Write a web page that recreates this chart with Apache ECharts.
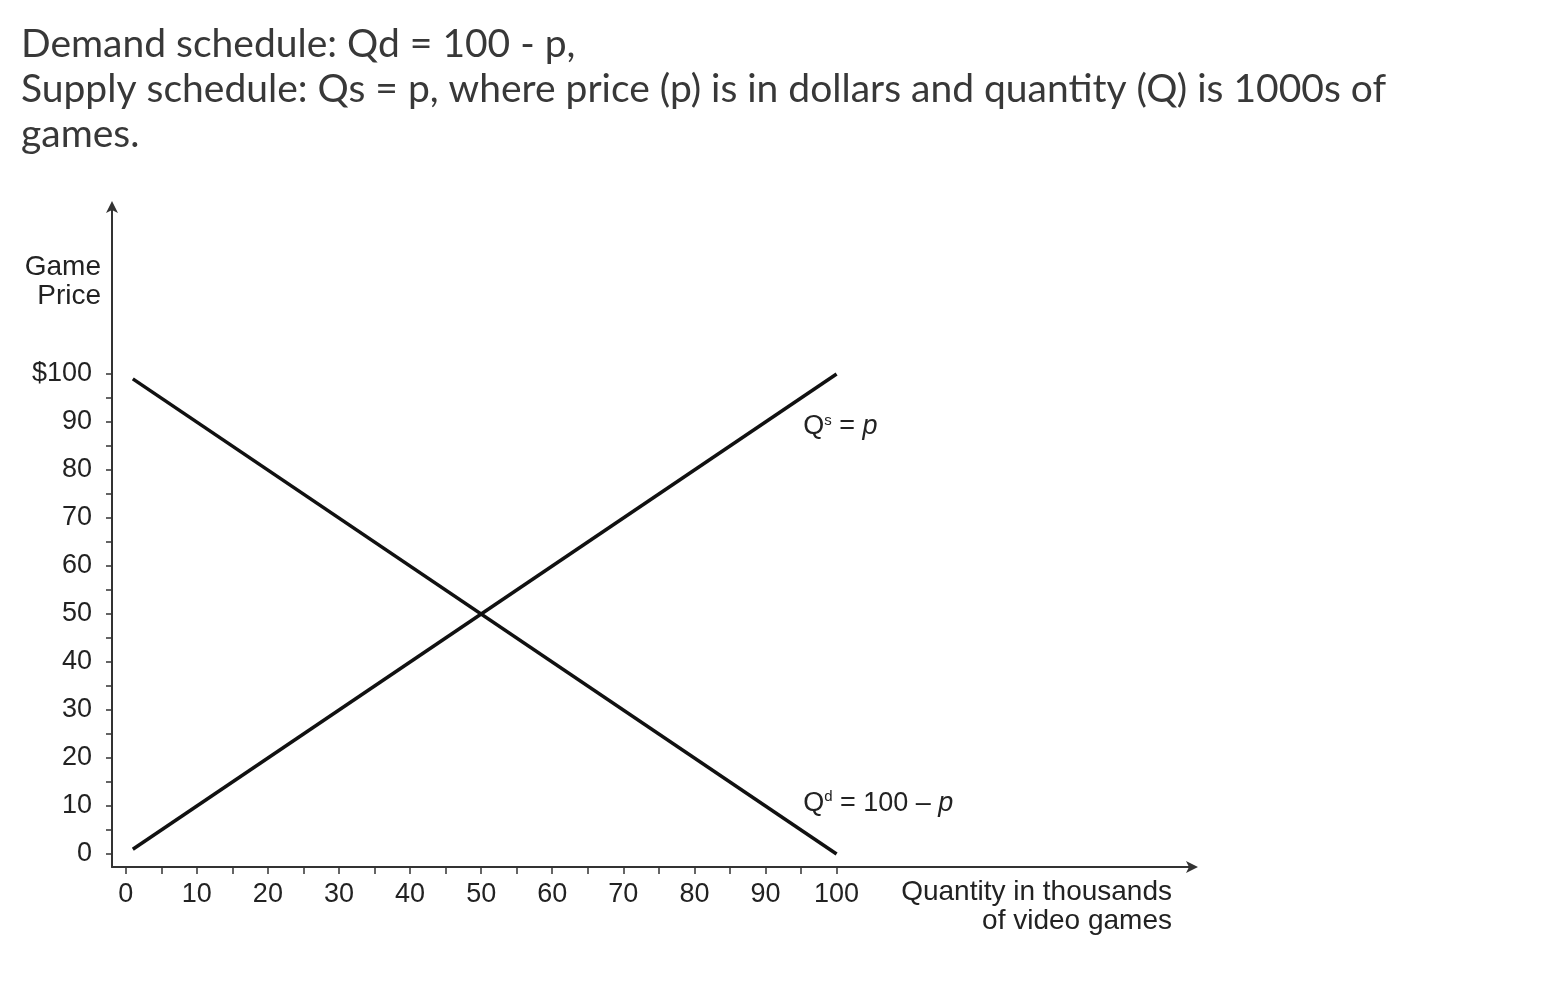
<!DOCTYPE html>
<html><head><meta charset="utf-8">
<script src="https://cdn.jsdelivr.net/npm/echarts@6/dist/echarts.min.js"></script>
<style>html,body{margin:0;padding:0;background:#fff}#c{width:1568px;height:996px}</style>
</head><body><div id="c"></div>
<script>
const headerLines = ["Demand schedule: Qd = 100 - p,", "Supply schedule: Qs = p, where price (p) is in dollars and quantity (Q) is 1000s of", "games."];
const supplyPoints = [[1, 1], [100, 100]];
const demandPoints = [[1, 99], [100, 0]];
const tickValues = [0,5,10,15,20,25,30,35,40,45,50,55,60,65,70,75,80,85,90,95,100];
const labelValues = [0,10,20,30,40,50,60,70,80,90,100];
const yAxisTitle = "Game\nPrice";
const xAxisTitle = "Quantity in thousands\nof video games";
const supplyLabelAt = [95.3, 89];
const demandLabelAt = [95.3, 10.6];

const chart = echarts.init(document.getElementById('c'), null, {renderer: 'canvas'});
const F = '"Liberation Sans", Arial, sans-serif';
const axisColor = '#333';
const txt = '#222';
const FS = 27;
const richQ = {
  q: {fontFamily: F, fontSize: 27, color: txt},
  sup: {fontFamily: F, fontSize: 15, color: txt, verticalAlign: 'top', padding: [0,0,10,0]},
  t: {fontFamily: F, fontSize: 27, color: txt},
  p: {fontFamily: F, fontSize: 27, fontStyle: 'italic', color: txt}
};
chart.setOption({
  animation: false,
  title: {
    text: headerLines.join('\n'),
    left: 21, top: 22, padding: 0,
    textStyle: {fontFamily: 'Lato, sans-serif', fontSize: 39, fontWeight: 'normal', color: '#383838', lineHeight: 45}
  },
  grid: {left: 112, right: 376, top: 207, bottom: 129, containLabel: false},
  xAxis: {
    type: 'value', min: -1.93, max: 150,
    splitLine: {show: false},
    axisLine: {show: true, onZero: false, lineStyle: {color: axisColor, width: 2}, symbol: ['none', 'arrow'], symbolSize: [9, 12], symbolOffset: [0, 6]},
    axisTick: {show: true, inside: false, length: 7, customValues: tickValues, lineStyle: {color: axisColor, width: 1.5}},
    axisLabel: {show: true, customValues: labelValues, margin: 14, fontFamily: F, fontSize: FS, color: txt}
  },
  yAxis: {
    type: 'value', min: -2.71, max: 134.8,
    splitLine: {show: false},
    axisLine: {show: true, onZero: false, lineStyle: {color: axisColor, width: 2}, symbol: ['none', 'arrow'], symbolSize: [9, 12], symbolOffset: [0, 6]},
    axisTick: {show: true, inside: false, length: 6, customValues: tickValues, lineStyle: {color: axisColor, width: 1.5}},
    axisLabel: {show: true, customValues: labelValues, margin: 20, fontFamily: F, fontSize: FS, color: txt,
      formatter: v => v === 100 ? '$100' : String(v)}
  },
  graphic: [
    {type: 'text', x: 101, y: 253, style: {text: yAxisTitle, font: '28px ' + F, fill: txt, align: 'right', lineHeight: 29}},
    {type: 'text', x: 1172, y: 878, style: {text: xAxisTitle, font: '28px ' + F, fill: txt, align: 'right', lineHeight: 29}}
  ],
  series: [
    {
      type: 'line', name: 'Supply', data: supplyPoints, symbol: 'none',
      lineStyle: {color: '#111', width: 3.5},
      markPoint: {symbol: 'circle', symbolSize: 0, data: [{coord: supplyLabelAt, label: {show: true, position: 'right', distance: 0,
        formatter: '{q|Q}{sup|s}{t| = }{p|p}', rich: richQ}}]}
    },
    {
      type: 'line', name: 'Demand', data: demandPoints, symbol: 'none',
      lineStyle: {color: '#111', width: 3.5},
      markPoint: {symbol: 'circle', symbolSize: 0, data: [{coord: demandLabelAt, label: {show: true, position: 'right', distance: 0,
        formatter: '{q|Q}{sup|d}{t| = 100 – }{p|p}', rich: richQ}}]}
    }
  ]
});
</script></body></html>
